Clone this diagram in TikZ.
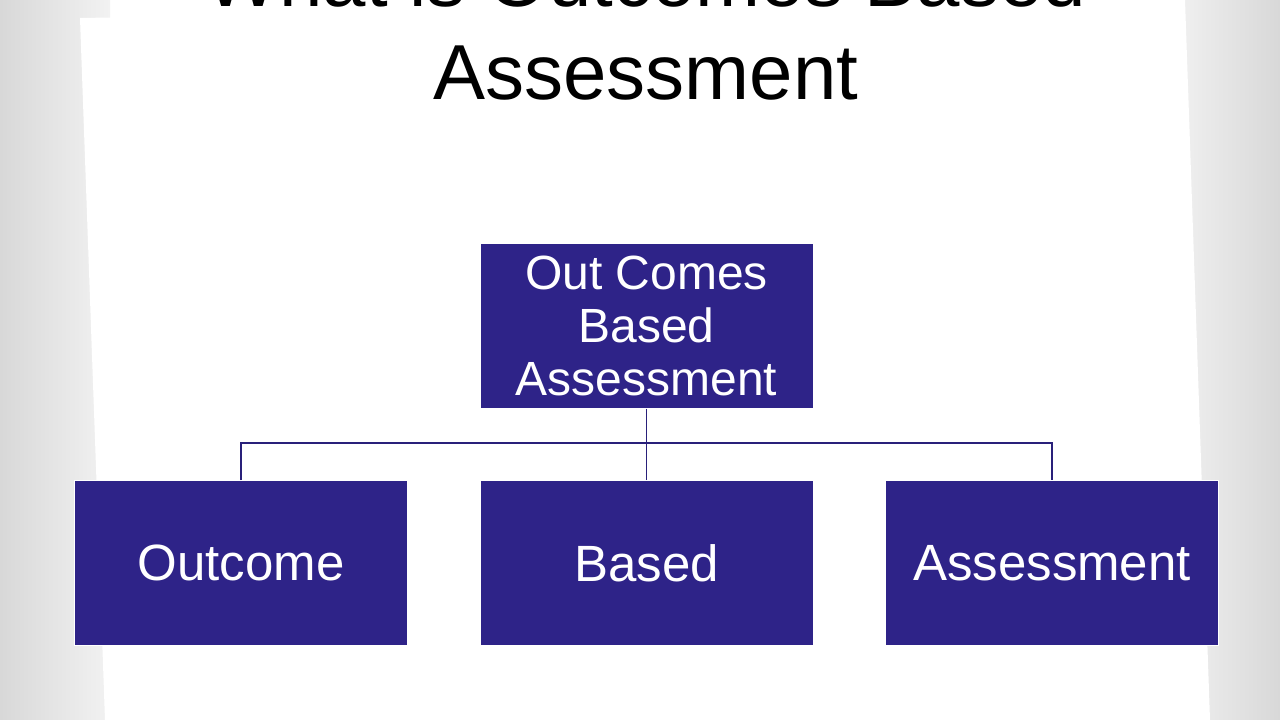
\documentclass[tikz,border=0pt]{standalone}
\usepackage{fontspec}
\setmainfont{Liberation Sans}
\definecolor{boxblue}{HTML}{2E2388}
\definecolor{bgl}{HTML}{F2F2F2}
\definecolor{bgd}{HTML}{D8D8D8}
\begin{document}
\begin{tikzpicture}[x=1pt,y=-1pt,
  box/.style={draw=white,line width=1pt,fill=boxblue,text=white,minimum width=333pt,minimum height=165pt,inner sep=0pt,align=center,font=\fontsize{51}{51}\selectfont},
  conn/.style={draw=boxblue!90!black,line width=1.2pt}]
\useasboundingbox (0,0) rectangle (1280,720);
\clip (0,0) rectangle (1280,720);
\shade[left color=bgd,right color=bgl] (0,0) rectangle (110,720);
\shade[left color=bgl,right color=bgd] (1170,0) rectangle (1280,720);
\fill[white] (80,18) -- (1185,0) -- (1210,720) -- (105,720) -- cycle;
\node[anchor=base,font=\fontsize{78}{78}\selectfont] (t1) at (646,6) {What is Outcomes Based};
\node[anchor=base,font=\fontsize{78}{78}\selectfont] (t2) at (646,99) {Assessment};
\node[box,font=\fontsize{48}{53}\selectfont] (top) at (646.5,325.5) {Out Comes\\Based\\Assessment};
\node[box] (b1) at (241,563) {Outcome};
\node[box] (b2) at (646.5,563) {Based};
\node[box] (b3) at (1052,563) {Assessment};
\coordinate (j) at (646,443);
\draw[conn] (top.south) -- (b2.north);
\draw[conn] (b1.north) -- (b1.north |- j) -- (b3.north |- j) -- (b3.north);
\end{tikzpicture}
\end{document}
